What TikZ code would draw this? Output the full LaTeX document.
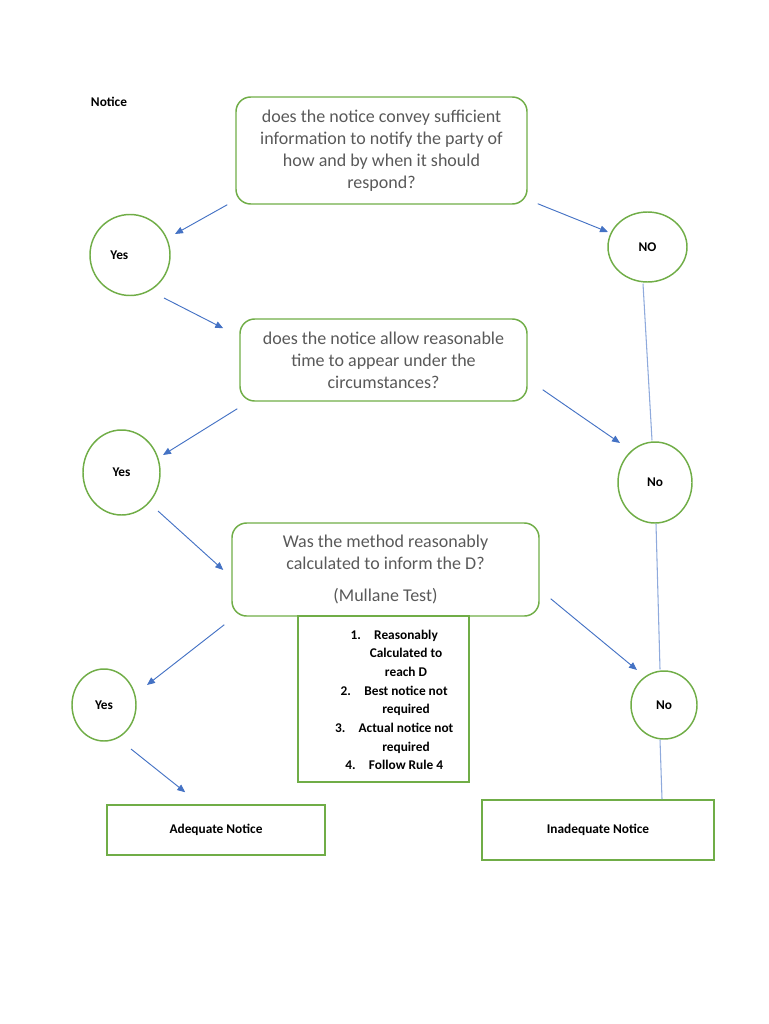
\documentclass[tikz,border=0pt]{standalone}
\usepackage{fontspec}
\setmainfont{Carlito}
\usetikzlibrary{shapes.geometric,arrows.meta,calc}
\definecolor{boxgreen}{HTML}{70AD47}
\definecolor{arrblue}{HTML}{4472C4}
\definecolor{linkblue}{HTML}{8FAADC}
\definecolor{qtext}{HTML}{595959}
\begin{document}
\begin{tikzpicture}[x=0.75pt,y=-0.75pt,
 qbox/.style={draw=boxgreen,line width=1.1pt,rounded corners=11pt,inner sep=0pt,align=center,text=qtext,font=\fontsize{13.5}{16.4}\selectfont},
 choice/.style={draw=boxgreen,line width=1.1pt,ellipse,inner sep=0pt,font=\bfseries\fontsize{10}{12}\selectfont},
 endbox/.style={draw=boxgreen,line width=1.1pt,inner sep=0pt,font=\bfseries\fontsize{10}{12}\selectfont},
 arr/.style={draw=arrblue,line width=0.7pt,-{Triangle[length=6pt,width=5pt]}},
 link/.style={draw=linkblue,line width=0.8pt}]
\useasboundingbox (0,0) rectangle (768,1024);

\node[font=\bfseries\fontsize{10}{12}\selectfont] (title) at (109,102) {Notice};

\node[qbox,minimum width=218.25pt,minimum height=80.25pt] (q1) at (381.5,150.5)
 {does the notice convey sufficient\\information to notify the party of\\how and by when it should\\respond?};
\node[qbox,minimum width=215.25pt,minimum height=61.5pt] (q2) at (383.5,360)
 {does the notice allow reasonable\\time to appear under the\\circumstances?};
\node[endbox,line width=0.9pt,minimum width=128.25pt,minimum height=124.5pt] (list) at (383.5,699) {};
\node[font=\bfseries\fontsize{10}{14}\selectfont,align=center,inner sep=0pt] (listtxt) at (406,700)
 {\llap{1.\hspace{10pt}}Reasonably\\Calculated to\\reach D\\
  \llap{2.\hspace{10pt}}Best notice not\\required\\
  \llap{3.\hspace{10pt}}Actual notice not\\required\\
  \llap{4.\hspace{10pt}}Follow Rule 4};
\node[qbox,minimum width=230.25pt,minimum height=69.75pt] (q3) at (385.5,569.5)
 {Was the method reasonably\\calculated to inform the D?\\[8pt](Mullane Test)};

\node[choice,minimum width=60pt,minimum height=60.75pt] (yes1) at (130,255) {Yes\kern16pt};
\node[choice,minimum width=59.25pt,minimum height=52.5pt] (no1) at (647.5,247) {NO};
\node[choice,minimum width=57.75pt,minimum height=63.75pt] (yes2) at (121.5,472.5) {Yes};
\node[choice,minimum width=55.5pt,minimum height=60.75pt] (no2) at (655,482.5) {No};
\node[choice,minimum width=48pt,minimum height=54pt] (yes3) at (104,705) {Yes};
\node[choice,minimum width=49.5pt,minimum height=51pt] (no3) at (664,705) {No};

\node[endbox,minimum width=163.5pt,minimum height=37.5pt] (adequate) at (216,830) {Adequate Notice};
\node[endbox,line width=1.5pt,minimum width=174pt,minimum height=45pt] (inadequate) at (598,830) {Inadequate Notice};

\draw[arr] ($(q1.south west)+(-8,0)$) -- ($(yes1.center)+(45,-21)$);
\draw[arr] ($(q1.south east)+(10,-1)$) -- ($(no1.center)+(-39.5,-15)$);
\draw[arr] ($(yes1.center)+(34,43)$) -- ($(q2.north west)+(-16,10)$);
\draw[arr] ($(q2.south west)+(-2,7)$) -- ($(yes2.center)+(41.5,-17.5)$);
\draw[arr] ($(q2.south east)+(15,-12)$) -- ($(no2.center)+(-35,-39.5)$);
\draw[arr] ($(yes2.center)+(36.5,38.5)$) -- ($(q3.west)+(-8,0.5)$);
\draw[arr] ($(q3.south west)+(-7,8)$) -- ($(yes3.center)+(43,-20)$);
\draw[arr] ($(q3.south east)+(11,-18)$) -- ($(no3.center)+(-27,-35)$);
\draw[arr] ($(yes3.center)+(27,44)$) -- ($(adequate.north west)+(79,-12)$);

\draw[link] ($(no1.south)+(-4.5,1)$) -- ($(no2.north)+(-3,-1)$);
\draw[link] ($(no2.south)+(1,0)$) -- ($(no3.north)+(-4,-1)$);
\draw[link] ($(no3.south)+(-4,0)$) -- ($(inadequate.north)+(64,0)$);
\end{tikzpicture}
\end{document}
